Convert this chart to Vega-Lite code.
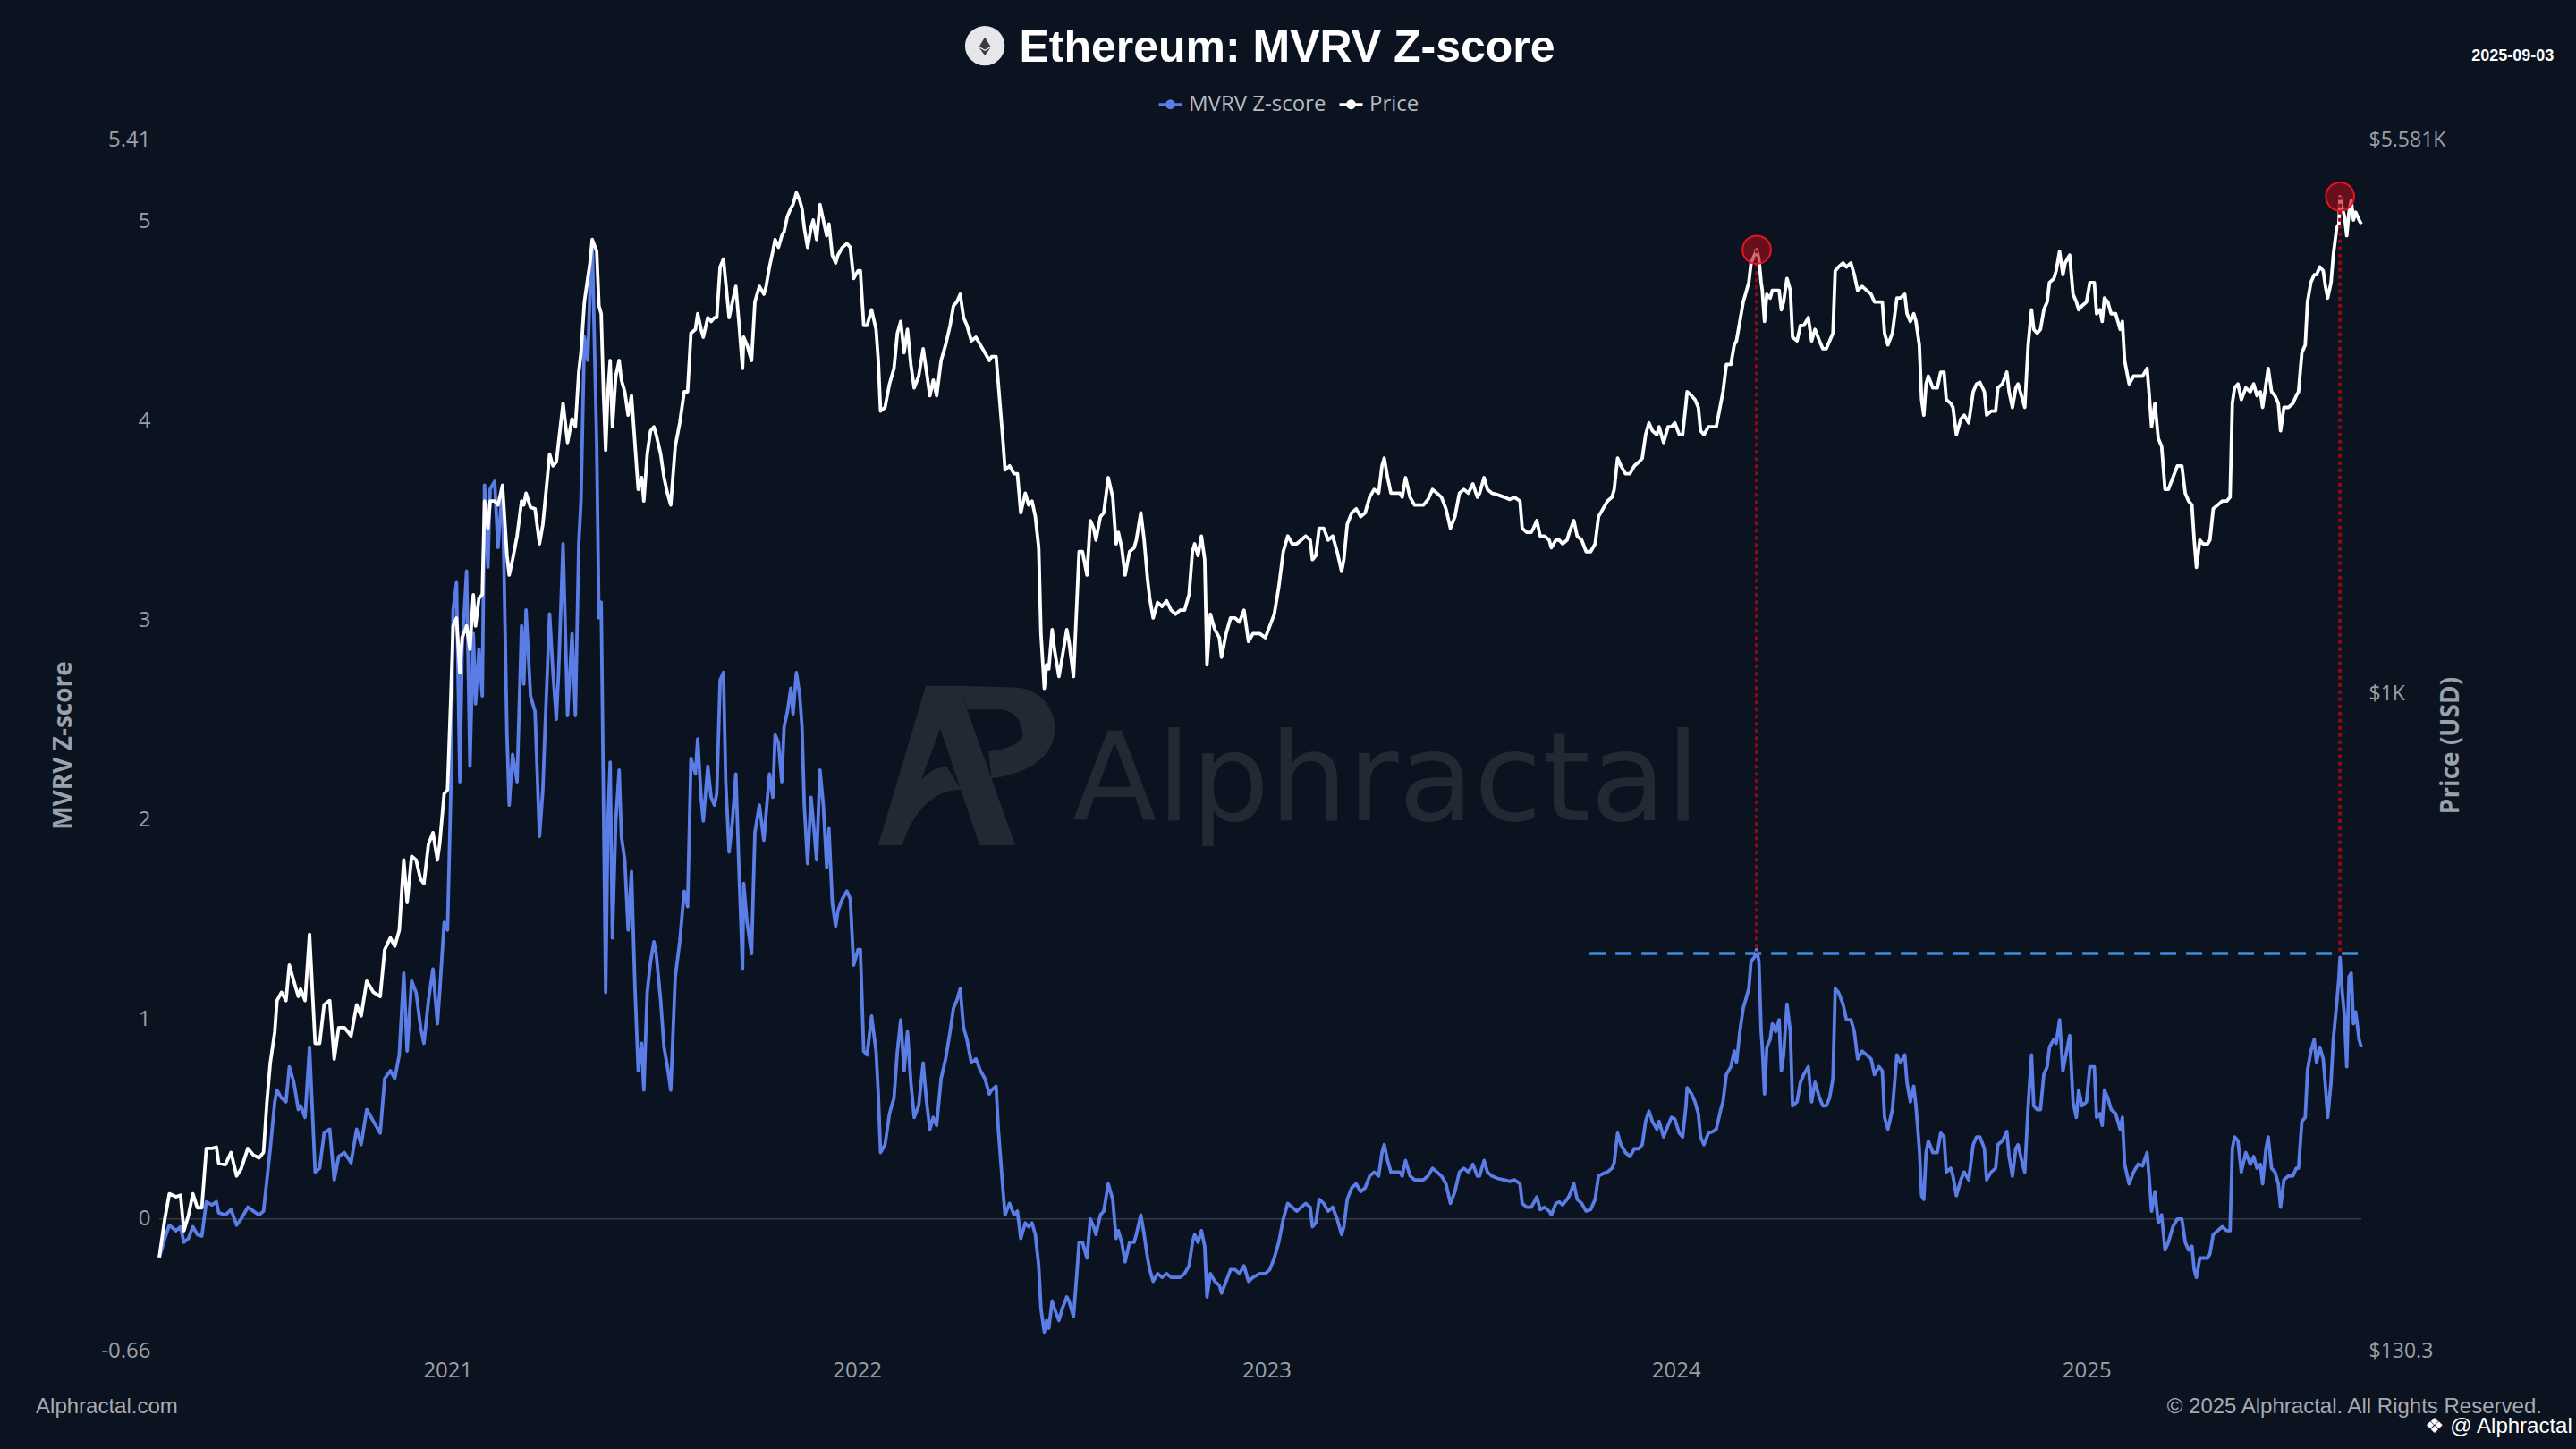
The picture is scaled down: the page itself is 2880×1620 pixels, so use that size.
{
  "$schema": "https://vega.github.io/schema/vega-lite/v6.json",
  "width": 2462,
  "height": 1354,
  "autosize": {"type": "none"},
  "padding": {"left": 178, "top": 156, "right": 240, "bottom": 110},
  "background": "#0b1220",
  "title": {
    "text": "Ethereum: MVRV Z-score",
    "color": "#ffffff",
    "font": "Liberation Sans",
    "fontSize": 50,
    "fontWeight": "bold",
    "anchor": "middle",
    "frame": "group",
    "dx": 30,
    "offset": -50
  },
  "config": {
    "view": {"stroke": null},
    "axis": {
      "grid": false,
      "domain": false,
      "ticks": false,
      "labelColor": "#9ba0a8",
      "labelFont": "Open Sans",
      "labelFontSize": 24,
      "titleColor": "#9ba1aa",
      "titleFont": "Open Sans",
      "titleFontSize": 28,
      "titleFontWeight": "bold"
    }
  },
  "datasets": {
    "series": [
      {"d": "2020-04-19", "z": -0.196, "p": 174},
      {"d": "2020-04-24", "z": -0.098, "p": 196},
      {"d": "2020-04-28", "z": -0.031, "p": 212},
      {"d": "2020-05-04", "z": -0.059, "p": 210},
      {"d": "2020-05-08", "z": -0.039, "p": 211},
      {"d": "2020-05-11", "z": -0.117, "p": 189},
      {"d": "2020-05-15", "z": -0.098, "p": 198},
      {"d": "2020-05-19", "z": -0.039, "p": 212},
      {"d": "2020-05-23", "z": -0.078, "p": 203},
      {"d": "2020-05-27", "z": -0.086, "p": 203},
      {"d": "2020-05-31", "z": 0.086, "p": 244},
      {"d": "2020-06-05", "z": 0.070, "p": 244},
      {"d": "2020-06-09", "z": 0.086, "p": 245},
      {"d": "2020-06-11", "z": 0.031, "p": 233},
      {"d": "2020-06-17", "z": 0.020, "p": 232},
      {"d": "2020-06-22", "z": 0.047, "p": 241},
      {"d": "2020-06-27", "z": -0.031, "p": 224},
      {"d": "2020-07-01", "z": 0.000, "p": 229},
      {"d": "2020-07-07", "z": 0.059, "p": 244},
      {"d": "2020-07-12", "z": 0.039, "p": 239},
      {"d": "2020-07-17", "z": 0.020, "p": 237},
      {"d": "2020-07-21", "z": 0.039, "p": 241},
      {"d": "2020-07-24", "z": 0.196, "p": 282},
      {"d": "2020-07-27", "z": 0.352, "p": 318},
      {"d": "2020-07-31", "z": 0.587, "p": 350},
      {"d": "2020-08-02", "z": 0.646, "p": 386},
      {"d": "2020-08-06", "z": 0.606, "p": 396},
      {"d": "2020-08-10", "z": 0.587, "p": 386},
      {"d": "2020-08-13", "z": 0.763, "p": 431},
      {"d": "2020-08-17", "z": 0.685, "p": 410},
      {"d": "2020-08-21", "z": 0.548, "p": 391},
      {"d": "2020-08-23", "z": 0.567, "p": 400},
      {"d": "2020-08-27", "z": 0.509, "p": 386},
      {"d": "2020-08-31", "z": 0.861, "p": 474},
      {"d": "2020-09-05", "z": 0.235, "p": 338},
      {"d": "2020-09-09", "z": 0.254, "p": 338},
      {"d": "2020-09-13", "z": 0.430, "p": 381},
      {"d": "2020-09-18", "z": 0.450, "p": 386},
      {"d": "2020-09-22", "z": 0.196, "p": 322},
      {"d": "2020-09-26", "z": 0.313, "p": 355},
      {"d": "2020-10-01", "z": 0.333, "p": 355},
      {"d": "2020-10-07", "z": 0.282, "p": 346},
      {"d": "2020-10-12", "z": 0.450, "p": 381},
      {"d": "2020-10-16", "z": 0.372, "p": 368},
      {"d": "2020-10-21", "z": 0.548, "p": 410},
      {"d": "2020-10-27", "z": 0.489, "p": 396},
      {"d": "2020-11-02", "z": 0.430, "p": 391},
      {"d": "2020-11-06", "z": 0.704, "p": 452},
      {"d": "2020-11-11", "z": 0.743, "p": 469},
      {"d": "2020-11-15", "z": 0.704, "p": 457},
      {"d": "2020-11-19", "z": 0.822, "p": 480},
      {"d": "2020-11-23", "z": 1.232, "p": 597},
      {"d": "2020-11-26", "z": 0.841, "p": 523},
      {"d": "2020-11-30", "z": 1.193, "p": 604},
      {"d": "2020-12-04", "z": 1.135, "p": 597},
      {"d": "2020-12-08", "z": 0.959, "p": 562},
      {"d": "2020-12-11", "z": 0.880, "p": 555},
      {"d": "2020-12-15", "z": 1.095, "p": 627},
      {"d": "2020-12-19", "z": 1.252, "p": 650},
      {"d": "2020-12-23", "z": 0.978, "p": 597},
      {"d": "2020-12-25", "z": 1.135, "p": 627},
      {"d": "2020-12-29", "z": 1.487, "p": 733},
      {"d": "2021-01-01", "z": 1.448, "p": 742},
      {"d": "2021-01-04", "z": 2.152, "p": 993},
      {"d": "2021-01-06", "z": 3.052, "p": 1234},
      {"d": "2021-01-09", "z": 3.189, "p": 1265},
      {"d": "2021-01-12", "z": 2.191, "p": 1067},
      {"d": "2021-01-14", "z": 2.856, "p": 1190},
      {"d": "2021-01-18", "z": 3.247, "p": 1234},
      {"d": "2021-01-21", "z": 2.269, "p": 1148},
      {"d": "2021-01-24", "z": 2.934, "p": 1360},
      {"d": "2021-01-26", "z": 2.582, "p": 1234},
      {"d": "2021-01-29", "z": 2.856, "p": 1344},
      {"d": "2021-02-01", "z": 2.621, "p": 1360},
      {"d": "2021-02-03", "z": 3.678, "p": 1818},
      {"d": "2021-02-06", "z": 3.267, "p": 1671},
      {"d": "2021-02-08", "z": 3.658, "p": 1818},
      {"d": "2021-02-12", "z": 3.697, "p": 1818},
      {"d": "2021-02-15", "z": 3.365, "p": 1796},
      {"d": "2021-02-19", "z": 3.678, "p": 1909},
      {"d": "2021-02-23", "z": 2.426, "p": 1535},
      {"d": "2021-02-25", "z": 2.074, "p": 1445},
      {"d": "2021-02-28", "z": 2.328, "p": 1516},
      {"d": "2021-03-04", "z": 2.191, "p": 1631},
      {"d": "2021-03-08", "z": 2.973, "p": 1818},
      {"d": "2021-03-10", "z": 2.680, "p": 1796},
      {"d": "2021-03-12", "z": 3.052, "p": 1863},
      {"d": "2021-03-16", "z": 2.621, "p": 1783},
      {"d": "2021-03-20", "z": 2.543, "p": 1775},
      {"d": "2021-03-24", "z": 1.917, "p": 1592},
      {"d": "2021-03-27", "z": 2.152, "p": 1691},
      {"d": "2021-03-29", "z": 2.465, "p": 1818},
      {"d": "2021-04-02", "z": 3.032, "p": 2103},
      {"d": "2021-04-05", "z": 2.739, "p": 2028},
      {"d": "2021-04-08", "z": 2.504, "p": 2052},
      {"d": "2021-04-10", "z": 2.739, "p": 2180},
      {"d": "2021-04-14", "z": 3.384, "p": 2461},
      {"d": "2021-04-18", "z": 2.523, "p": 2180},
      {"d": "2021-04-22", "z": 2.934, "p": 2345},
      {"d": "2021-04-25", "z": 2.523, "p": 2289},
      {"d": "2021-04-28", "z": 3.384, "p": 2712},
      {"d": "2021-04-30", "z": 3.599, "p": 2881},
      {"d": "2021-05-03", "z": 4.421, "p": 3372},
      {"d": "2021-05-06", "z": 4.304, "p": 3627},
      {"d": "2021-05-08", "z": 4.656, "p": 3806},
      {"d": "2021-05-10", "z": 4.890, "p": 4093},
      {"d": "2021-05-14", "z": 3.873, "p": 3946},
      {"d": "2021-05-16", "z": 3.013, "p": 3331},
      {"d": "2021-05-18", "z": 3.091, "p": 3251},
      {"d": "2021-05-20", "z": 2.113, "p": 2552},
      {"d": "2021-05-22", "z": 1.135, "p": 2128},
      {"d": "2021-05-24", "z": 1.995, "p": 2552},
      {"d": "2021-05-26", "z": 2.289, "p": 2812},
      {"d": "2021-05-28", "z": 1.408, "p": 2289},
      {"d": "2021-05-31", "z": 1.995, "p": 2679},
      {"d": "2021-06-03", "z": 2.250, "p": 2812},
      {"d": "2021-06-05", "z": 1.917, "p": 2647},
      {"d": "2021-06-08", "z": 1.800, "p": 2552},
      {"d": "2021-06-11", "z": 1.448, "p": 2373},
      {"d": "2021-06-14", "z": 1.741, "p": 2521},
      {"d": "2021-06-17", "z": 1.174, "p": 2180},
      {"d": "2021-06-20", "z": 0.743, "p": 1885},
      {"d": "2021-06-23", "z": 0.880, "p": 1956},
      {"d": "2021-06-25", "z": 0.646, "p": 1818},
      {"d": "2021-06-28", "z": 1.135, "p": 2103},
      {"d": "2021-07-01", "z": 1.291, "p": 2261},
      {"d": "2021-07-04", "z": 1.389, "p": 2289},
      {"d": "2021-07-06", "z": 1.330, "p": 2234},
      {"d": "2021-07-10", "z": 1.095, "p": 2103},
      {"d": "2021-07-13", "z": 0.861, "p": 1956},
      {"d": "2021-07-16", "z": 0.763, "p": 1863},
      {"d": "2021-07-19", "z": 0.646, "p": 1796},
      {"d": "2021-07-23", "z": 1.213, "p": 2154},
      {"d": "2021-07-27", "z": 1.389, "p": 2317},
      {"d": "2021-07-31", "z": 1.643, "p": 2552},
      {"d": "2021-08-03", "z": 1.565, "p": 2552},
      {"d": "2021-08-06", "z": 2.308, "p": 3061},
      {"d": "2021-08-10", "z": 2.230, "p": 3097},
      {"d": "2021-08-12", "z": 2.406, "p": 3251},
      {"d": "2021-08-15", "z": 2.113, "p": 3097},
      {"d": "2021-08-17", "z": 1.995, "p": 3023},
      {"d": "2021-08-21", "z": 2.269, "p": 3212},
      {"d": "2021-08-24", "z": 2.113, "p": 3174},
      {"d": "2021-08-27", "z": 2.074, "p": 3212},
      {"d": "2021-08-29", "z": 2.132, "p": 3212},
      {"d": "2021-09-01", "z": 2.700, "p": 3759},
      {"d": "2021-09-04", "z": 2.739, "p": 3852},
      {"d": "2021-09-06", "z": 2.191, "p": 3582},
      {"d": "2021-09-09", "z": 1.839, "p": 3212},
      {"d": "2021-09-12", "z": 1.995, "p": 3372},
      {"d": "2021-09-15", "z": 2.230, "p": 3539},
      {"d": "2021-09-18", "z": 1.721, "p": 3135},
      {"d": "2021-09-21", "z": 1.252, "p": 2744},
      {"d": "2021-09-22", "z": 1.682, "p": 3023},
      {"d": "2021-09-25", "z": 1.487, "p": 2951},
      {"d": "2021-09-29", "z": 1.330, "p": 2812},
      {"d": "2021-10-02", "z": 1.937, "p": 3372},
      {"d": "2021-10-06", "z": 2.074, "p": 3539},
      {"d": "2021-10-10", "z": 1.898, "p": 3454},
      {"d": "2021-10-12", "z": 2.034, "p": 3539},
      {"d": "2021-10-15", "z": 2.230, "p": 3759},
      {"d": "2021-10-18", "z": 2.113, "p": 3946},
      {"d": "2021-10-20", "z": 2.426, "p": 4093},
      {"d": "2021-10-23", "z": 2.387, "p": 3994},
      {"d": "2021-10-26", "z": 2.191, "p": 4142},
      {"d": "2021-10-28", "z": 2.465, "p": 4193},
      {"d": "2021-10-31", "z": 2.543, "p": 4400},
      {"d": "2021-11-03", "z": 2.660, "p": 4508},
      {"d": "2021-11-05", "z": 2.531, "p": 4563},
      {"d": "2021-11-08", "z": 2.739, "p": 4732},
      {"d": "2021-11-11", "z": 2.621, "p": 4619},
      {"d": "2021-11-13", "z": 2.465, "p": 4508},
      {"d": "2021-11-15", "z": 2.074, "p": 4244},
      {"d": "2021-11-18", "z": 1.780, "p": 3994},
      {"d": "2021-11-21", "z": 2.113, "p": 4244},
      {"d": "2021-11-23", "z": 1.995, "p": 4348},
      {"d": "2021-11-26", "z": 1.800, "p": 4093},
      {"d": "2021-11-29", "z": 2.250, "p": 4563},
      {"d": "2021-12-02", "z": 2.074, "p": 4348},
      {"d": "2021-12-05", "z": 1.761, "p": 4142},
      {"d": "2021-12-07", "z": 1.956, "p": 4295},
      {"d": "2021-12-10", "z": 1.585, "p": 3899},
      {"d": "2021-12-13", "z": 1.467, "p": 3806},
      {"d": "2021-12-15", "z": 1.545, "p": 3899},
      {"d": "2021-12-19", "z": 1.604, "p": 3994},
      {"d": "2021-12-23", "z": 1.643, "p": 4043},
      {"d": "2021-12-26", "z": 1.604, "p": 3994},
      {"d": "2021-12-29", "z": 1.272, "p": 3627},
      {"d": "2022-01-02", "z": 1.350, "p": 3715},
      {"d": "2022-01-04", "z": 1.350, "p": 3715},
      {"d": "2022-01-07", "z": 0.841, "p": 3135},
      {"d": "2022-01-10", "z": 0.822, "p": 3135},
      {"d": "2022-01-14", "z": 1.017, "p": 3291},
      {"d": "2022-01-18", "z": 0.841, "p": 3097},
      {"d": "2022-01-20", "z": 0.626, "p": 2812},
      {"d": "2022-01-22", "z": 0.333, "p": 2403},
      {"d": "2022-01-26", "z": 0.372, "p": 2431},
      {"d": "2022-01-30", "z": 0.528, "p": 2615},
      {"d": "2022-02-03", "z": 0.606, "p": 2744},
      {"d": "2022-02-06", "z": 0.841, "p": 3061},
      {"d": "2022-02-09", "z": 0.998, "p": 3174},
      {"d": "2022-02-12", "z": 0.743, "p": 2881},
      {"d": "2022-02-15", "z": 0.939, "p": 3097},
      {"d": "2022-02-18", "z": 0.685, "p": 2778},
      {"d": "2022-02-21", "z": 0.509, "p": 2583},
      {"d": "2022-02-25", "z": 0.567, "p": 2679},
      {"d": "2022-03-01", "z": 0.782, "p": 2916},
      {"d": "2022-03-04", "z": 0.587, "p": 2712},
      {"d": "2022-03-07", "z": 0.450, "p": 2521},
      {"d": "2022-03-10", "z": 0.509, "p": 2647},
      {"d": "2022-03-13", "z": 0.469, "p": 2521},
      {"d": "2022-03-17", "z": 0.704, "p": 2812},
      {"d": "2022-03-21", "z": 0.802, "p": 2951},
      {"d": "2022-03-25", "z": 0.939, "p": 3135},
      {"d": "2022-03-28", "z": 1.056, "p": 3331},
      {"d": "2022-03-31", "z": 1.095, "p": 3372},
      {"d": "2022-04-03", "z": 1.154, "p": 3454},
      {"d": "2022-04-06", "z": 0.959, "p": 3212},
      {"d": "2022-04-09", "z": 0.900, "p": 3135},
      {"d": "2022-04-13", "z": 0.782, "p": 2988},
      {"d": "2022-04-17", "z": 0.802, "p": 3023},
      {"d": "2022-04-21", "z": 0.743, "p": 2951},
      {"d": "2022-04-25", "z": 0.704, "p": 2881},
      {"d": "2022-04-29", "z": 0.626, "p": 2812},
      {"d": "2022-05-01", "z": 0.646, "p": 2846},
      {"d": "2022-05-05", "z": 0.665, "p": 2846},
      {"d": "2022-05-07", "z": 0.450, "p": 2615},
      {"d": "2022-05-11", "z": 0.156, "p": 2207},
      {"d": "2022-05-13", "z": 0.020, "p": 2003},
      {"d": "2022-05-17", "z": 0.078, "p": 2028},
      {"d": "2022-05-21", "z": 0.020, "p": 1979},
      {"d": "2022-05-24", "z": 0.039, "p": 1979},
      {"d": "2022-05-27", "z": -0.098, "p": 1753},
      {"d": "2022-05-31", "z": -0.020, "p": 1863},
      {"d": "2022-06-03", "z": -0.039, "p": 1796},
      {"d": "2022-06-06", "z": -0.020, "p": 1818},
      {"d": "2022-06-09", "z": -0.078, "p": 1733},
      {"d": "2022-06-12", "z": -0.235, "p": 1573},
      {"d": "2022-06-14", "z": -0.450, "p": 1205},
      {"d": "2022-06-17", "z": -0.567, "p": 1017},
      {"d": "2022-06-19", "z": -0.509, "p": 1094},
      {"d": "2022-06-21", "z": -0.548, "p": 1080},
      {"d": "2022-06-24", "z": -0.411, "p": 1220},
      {"d": "2022-06-26", "z": -0.450, "p": 1148},
      {"d": "2022-06-30", "z": -0.509, "p": 1055},
      {"d": "2022-07-03", "z": -0.450, "p": 1120},
      {"d": "2022-07-07", "z": -0.391, "p": 1220},
      {"d": "2022-07-09", "z": -0.411, "p": 1176},
      {"d": "2022-07-13", "z": -0.489, "p": 1055},
      {"d": "2022-07-16", "z": -0.274, "p": 1327},
      {"d": "2022-07-18", "z": -0.117, "p": 1554},
      {"d": "2022-07-21", "z": -0.117, "p": 1554},
      {"d": "2022-07-25", "z": -0.196, "p": 1445},
      {"d": "2022-07-28", "z": 0.000, "p": 1711},
      {"d": "2022-07-31", "z": -0.039, "p": 1671},
      {"d": "2022-08-02", "z": -0.078, "p": 1611},
      {"d": "2022-08-06", "z": 0.020, "p": 1732},
      {"d": "2022-08-09", "z": 0.039, "p": 1753},
      {"d": "2022-08-13", "z": 0.176, "p": 1955},
      {"d": "2022-08-17", "z": 0.098, "p": 1840},
      {"d": "2022-08-20", "z": -0.098, "p": 1592},
      {"d": "2022-08-22", "z": -0.059, "p": 1650},
      {"d": "2022-08-25", "z": -0.117, "p": 1573},
      {"d": "2022-08-28", "z": -0.215, "p": 1445},
      {"d": "2022-09-01", "z": -0.117, "p": 1554},
      {"d": "2022-09-05", "z": -0.117, "p": 1573},
      {"d": "2022-09-07", "z": -0.078, "p": 1611},
      {"d": "2022-09-11", "z": 0.020, "p": 1753},
      {"d": "2022-09-14", "z": -0.078, "p": 1611},
      {"d": "2022-09-17", "z": -0.196, "p": 1427},
      {"d": "2022-09-19", "z": -0.254, "p": 1344},
      {"d": "2022-09-22", "z": -0.313, "p": 1265},
      {"d": "2022-09-26", "z": -0.274, "p": 1327},
      {"d": "2022-09-30", "z": -0.293, "p": 1311},
      {"d": "2022-10-04", "z": -0.274, "p": 1334},
      {"d": "2022-10-08", "z": -0.293, "p": 1296},
      {"d": "2022-10-12", "z": -0.293, "p": 1280},
      {"d": "2022-10-16", "z": -0.293, "p": 1296},
      {"d": "2022-10-20", "z": -0.274, "p": 1296},
      {"d": "2022-10-24", "z": -0.235, "p": 1360},
      {"d": "2022-10-27", "z": -0.117, "p": 1554},
      {"d": "2022-10-29", "z": -0.078, "p": 1592},
      {"d": "2022-11-01", "z": -0.117, "p": 1535},
      {"d": "2022-11-04", "z": -0.059, "p": 1631},
      {"d": "2022-11-07", "z": -0.137, "p": 1516},
      {"d": "2022-11-09", "z": -0.391, "p": 1094},
      {"d": "2022-11-12", "z": -0.274, "p": 1280},
      {"d": "2022-11-16", "z": -0.313, "p": 1220},
      {"d": "2022-11-20", "z": -0.333, "p": 1190},
      {"d": "2022-11-22", "z": -0.372, "p": 1120},
      {"d": "2022-11-26", "z": -0.313, "p": 1205},
      {"d": "2022-11-30", "z": -0.254, "p": 1265},
      {"d": "2022-12-04", "z": -0.254, "p": 1265},
      {"d": "2022-12-08", "z": -0.274, "p": 1249},
      {"d": "2022-12-12", "z": -0.235, "p": 1296},
      {"d": "2022-12-16", "z": -0.313, "p": 1176},
      {"d": "2022-12-20", "z": -0.293, "p": 1205},
      {"d": "2022-12-26", "z": -0.274, "p": 1205},
      {"d": "2022-12-31", "z": -0.274, "p": 1190},
      {"d": "2023-01-04", "z": -0.254, "p": 1234},
      {"d": "2023-01-08", "z": -0.196, "p": 1280},
      {"d": "2023-01-12", "z": -0.117, "p": 1393},
      {"d": "2023-01-16", "z": 0.000, "p": 1554},
      {"d": "2023-01-20", "z": 0.078, "p": 1631},
      {"d": "2023-01-24", "z": 0.059, "p": 1592},
      {"d": "2023-01-28", "z": 0.039, "p": 1592},
      {"d": "2023-02-01", "z": 0.059, "p": 1611},
      {"d": "2023-02-05", "z": 0.078, "p": 1631},
      {"d": "2023-02-09", "z": 0.059, "p": 1611},
      {"d": "2023-02-11", "z": -0.039, "p": 1516},
      {"d": "2023-02-14", "z": -0.020, "p": 1535},
      {"d": "2023-02-17", "z": 0.098, "p": 1671},
      {"d": "2023-02-21", "z": 0.078, "p": 1671},
      {"d": "2023-02-25", "z": 0.039, "p": 1611},
      {"d": "2023-03-01", "z": 0.059, "p": 1631},
      {"d": "2023-03-05", "z": 0.000, "p": 1554},
      {"d": "2023-03-09", "z": -0.078, "p": 1462},
      {"d": "2023-03-11", "z": -0.039, "p": 1516},
      {"d": "2023-03-14", "z": 0.098, "p": 1691},
      {"d": "2023-03-18", "z": 0.156, "p": 1753},
      {"d": "2023-03-22", "z": 0.176, "p": 1775},
      {"d": "2023-03-26", "z": 0.137, "p": 1732},
      {"d": "2023-03-30", "z": 0.156, "p": 1753},
      {"d": "2023-04-03", "z": 0.215, "p": 1840},
      {"d": "2023-04-07", "z": 0.235, "p": 1885},
      {"d": "2023-04-11", "z": 0.215, "p": 1863},
      {"d": "2023-04-14", "z": 0.333, "p": 2028},
      {"d": "2023-04-16", "z": 0.372, "p": 2077},
      {"d": "2023-04-19", "z": 0.293, "p": 1955},
      {"d": "2023-04-22", "z": 0.235, "p": 1863},
      {"d": "2023-04-26", "z": 0.235, "p": 1863},
      {"d": "2023-04-30", "z": 0.235, "p": 1863},
      {"d": "2023-05-02", "z": 0.215, "p": 1840},
      {"d": "2023-05-05", "z": 0.293, "p": 1955},
      {"d": "2023-05-09", "z": 0.215, "p": 1840},
      {"d": "2023-05-13", "z": 0.196, "p": 1796},
      {"d": "2023-05-17", "z": 0.196, "p": 1796},
      {"d": "2023-05-21", "z": 0.196, "p": 1796},
      {"d": "2023-05-25", "z": 0.215, "p": 1827},
      {"d": "2023-05-29", "z": 0.254, "p": 1885},
      {"d": "2023-06-02", "z": 0.235, "p": 1863},
      {"d": "2023-06-06", "z": 0.215, "p": 1840},
      {"d": "2023-06-10", "z": 0.176, "p": 1775},
      {"d": "2023-06-14", "z": 0.078, "p": 1671},
      {"d": "2023-06-18", "z": 0.137, "p": 1732},
      {"d": "2023-06-22", "z": 0.235, "p": 1863},
      {"d": "2023-06-26", "z": 0.254, "p": 1885},
      {"d": "2023-06-30", "z": 0.235, "p": 1863},
      {"d": "2023-07-04", "z": 0.274, "p": 1918},
      {"d": "2023-07-08", "z": 0.215, "p": 1840},
      {"d": "2023-07-10", "z": 0.215, "p": 1863},
      {"d": "2023-07-14", "z": 0.293, "p": 1955},
      {"d": "2023-07-17", "z": 0.235, "p": 1885},
      {"d": "2023-07-21", "z": 0.215, "p": 1863},
      {"d": "2023-07-26", "z": 0.203, "p": 1854},
      {"d": "2023-08-01", "z": 0.196, "p": 1840},
      {"d": "2023-08-06", "z": 0.188, "p": 1827},
      {"d": "2023-08-10", "z": 0.196, "p": 1840},
      {"d": "2023-08-15", "z": 0.176, "p": 1818},
      {"d": "2023-08-17", "z": 0.078, "p": 1671},
      {"d": "2023-08-21", "z": 0.059, "p": 1650},
      {"d": "2023-08-25", "z": 0.059, "p": 1650},
      {"d": "2023-08-27", "z": 0.078, "p": 1671},
      {"d": "2023-08-30", "z": 0.110, "p": 1711},
      {"d": "2023-09-02", "z": 0.047, "p": 1631},
      {"d": "2023-09-06", "z": 0.059, "p": 1631},
      {"d": "2023-09-10", "z": 0.039, "p": 1611},
      {"d": "2023-09-12", "z": 0.020, "p": 1573},
      {"d": "2023-09-16", "z": 0.078, "p": 1611},
      {"d": "2023-09-19", "z": 0.086, "p": 1611},
      {"d": "2023-09-22", "z": 0.070, "p": 1592},
      {"d": "2023-09-26", "z": 0.098, "p": 1611},
      {"d": "2023-09-28", "z": 0.117, "p": 1650},
      {"d": "2023-10-02", "z": 0.176, "p": 1711},
      {"d": "2023-10-05", "z": 0.098, "p": 1631},
      {"d": "2023-10-09", "z": 0.078, "p": 1611},
      {"d": "2023-10-13", "z": 0.039, "p": 1554},
      {"d": "2023-10-17", "z": 0.047, "p": 1554},
      {"d": "2023-10-21", "z": 0.098, "p": 1592},
      {"d": "2023-10-24", "z": 0.215, "p": 1732},
      {"d": "2023-10-28", "z": 0.227, "p": 1775},
      {"d": "2023-11-01", "z": 0.235, "p": 1818},
      {"d": "2023-11-05", "z": 0.254, "p": 1840},
      {"d": "2023-11-07", "z": 0.282, "p": 1885},
      {"d": "2023-11-10", "z": 0.430, "p": 2077},
      {"d": "2023-11-13", "z": 0.372, "p": 2028},
      {"d": "2023-11-17", "z": 0.333, "p": 1979},
      {"d": "2023-11-21", "z": 0.313, "p": 1979},
      {"d": "2023-11-25", "z": 0.352, "p": 2028},
      {"d": "2023-11-29", "z": 0.352, "p": 2052},
      {"d": "2023-12-02", "z": 0.372, "p": 2077},
      {"d": "2023-12-05", "z": 0.489, "p": 2234},
      {"d": "2023-12-08", "z": 0.540, "p": 2317},
      {"d": "2023-12-11", "z": 0.489, "p": 2261},
      {"d": "2023-12-15", "z": 0.450, "p": 2234},
      {"d": "2023-12-17", "z": 0.489, "p": 2289},
      {"d": "2023-12-21", "z": 0.411, "p": 2180},
      {"d": "2023-12-25", "z": 0.469, "p": 2289},
      {"d": "2023-12-28", "z": 0.509, "p": 2289},
      {"d": "2023-12-31", "z": 0.501, "p": 2317},
      {"d": "2024-01-04", "z": 0.430, "p": 2234},
      {"d": "2024-01-07", "z": 0.411, "p": 2234},
      {"d": "2024-01-10", "z": 0.567, "p": 2461},
      {"d": "2024-01-11", "z": 0.657, "p": 2552},
      {"d": "2024-01-15", "z": 0.626, "p": 2521},
      {"d": "2024-01-18", "z": 0.587, "p": 2491},
      {"d": "2024-01-21", "z": 0.528, "p": 2431},
      {"d": "2024-01-23", "z": 0.411, "p": 2261},
      {"d": "2024-01-26", "z": 0.372, "p": 2234},
      {"d": "2024-01-30", "z": 0.430, "p": 2289},
      {"d": "2024-02-03", "z": 0.438, "p": 2289},
      {"d": "2024-02-06", "z": 0.450, "p": 2289},
      {"d": "2024-02-10", "z": 0.548, "p": 2461},
      {"d": "2024-02-12", "z": 0.587, "p": 2552},
      {"d": "2024-02-15", "z": 0.724, "p": 2778},
      {"d": "2024-02-19", "z": 0.763, "p": 2778},
      {"d": "2024-02-22", "z": 0.841, "p": 2951},
      {"d": "2024-02-24", "z": 0.782, "p": 2988},
      {"d": "2024-02-27", "z": 0.939, "p": 3174},
      {"d": "2024-03-01", "z": 1.056, "p": 3372},
      {"d": "2024-03-03", "z": 1.095, "p": 3454},
      {"d": "2024-03-06", "z": 1.154, "p": 3582},
      {"d": "2024-03-08", "z": 1.291, "p": 3806},
      {"d": "2024-03-11", "z": 1.311, "p": 3899},
      {"d": "2024-03-13", "z": 1.350, "p": 3965},
      {"d": "2024-03-15", "z": 1.291, "p": 3852},
      {"d": "2024-03-17", "z": 0.939, "p": 3582},
      {"d": "2024-03-18", "z": 0.861, "p": 3496},
      {"d": "2024-03-20", "z": 0.626, "p": 3174},
      {"d": "2024-03-22", "z": 0.861, "p": 3454},
      {"d": "2024-03-25", "z": 0.900, "p": 3413},
      {"d": "2024-03-27", "z": 0.978, "p": 3496},
      {"d": "2024-03-30", "z": 0.939, "p": 3496},
      {"d": "2024-04-02", "z": 0.998, "p": 3496},
      {"d": "2024-04-04", "z": 0.743, "p": 3291},
      {"d": "2024-04-06", "z": 0.822, "p": 3372},
      {"d": "2024-04-09", "z": 1.076, "p": 3627},
      {"d": "2024-04-12", "z": 0.939, "p": 3496},
      {"d": "2024-04-14", "z": 0.567, "p": 3023},
      {"d": "2024-04-18", "z": 0.587, "p": 2988},
      {"d": "2024-04-21", "z": 0.685, "p": 3135},
      {"d": "2024-04-24", "z": 0.724, "p": 3135},
      {"d": "2024-04-28", "z": 0.763, "p": 3212},
      {"d": "2024-05-01", "z": 0.587, "p": 2988},
      {"d": "2024-05-04", "z": 0.685, "p": 3097},
      {"d": "2024-05-08", "z": 0.606, "p": 2988},
      {"d": "2024-05-11", "z": 0.567, "p": 2916},
      {"d": "2024-05-14", "z": 0.567, "p": 2916},
      {"d": "2024-05-17", "z": 0.606, "p": 2988},
      {"d": "2024-05-20", "z": 0.704, "p": 3061},
      {"d": "2024-05-22", "z": 1.154, "p": 3715},
      {"d": "2024-05-25", "z": 1.135, "p": 3759},
      {"d": "2024-05-29", "z": 1.076, "p": 3806},
      {"d": "2024-06-01", "z": 0.998, "p": 3759},
      {"d": "2024-06-05", "z": 0.998, "p": 3806},
      {"d": "2024-06-08", "z": 0.939, "p": 3669},
      {"d": "2024-06-11", "z": 0.802, "p": 3496},
      {"d": "2024-06-15", "z": 0.841, "p": 3539},
      {"d": "2024-06-19", "z": 0.822, "p": 3496},
      {"d": "2024-06-23", "z": 0.802, "p": 3454},
      {"d": "2024-06-26", "z": 0.724, "p": 3372},
      {"d": "2024-06-30", "z": 0.763, "p": 3372},
      {"d": "2024-07-03", "z": 0.743, "p": 3372},
      {"d": "2024-07-05", "z": 0.509, "p": 3061},
      {"d": "2024-07-08", "z": 0.450, "p": 2951},
      {"d": "2024-07-12", "z": 0.548, "p": 3061},
      {"d": "2024-07-16", "z": 0.822, "p": 3413},
      {"d": "2024-07-19", "z": 0.782, "p": 3413},
      {"d": "2024-07-23", "z": 0.822, "p": 3454},
      {"d": "2024-07-25", "z": 0.685, "p": 3251},
      {"d": "2024-07-28", "z": 0.587, "p": 3174},
      {"d": "2024-07-31", "z": 0.665, "p": 3251},
      {"d": "2024-08-02", "z": 0.567, "p": 3174},
      {"d": "2024-08-05", "z": 0.352, "p": 2951},
      {"d": "2024-08-07", "z": 0.117, "p": 2491},
      {"d": "2024-08-09", "z": 0.098, "p": 2373},
      {"d": "2024-08-11", "z": 0.333, "p": 2615},
      {"d": "2024-08-13", "z": 0.391, "p": 2679},
      {"d": "2024-08-17", "z": 0.333, "p": 2583},
      {"d": "2024-08-21", "z": 0.333, "p": 2583},
      {"d": "2024-08-24", "z": 0.430, "p": 2712},
      {"d": "2024-08-27", "z": 0.411, "p": 2712},
      {"d": "2024-08-29", "z": 0.235, "p": 2491},
      {"d": "2024-09-02", "z": 0.254, "p": 2461},
      {"d": "2024-09-04", "z": 0.215, "p": 2431},
      {"d": "2024-09-07", "z": 0.117, "p": 2234},
      {"d": "2024-09-11", "z": 0.196, "p": 2345},
      {"d": "2024-09-14", "z": 0.235, "p": 2373},
      {"d": "2024-09-18", "z": 0.196, "p": 2317},
      {"d": "2024-09-22", "z": 0.372, "p": 2552},
      {"d": "2024-09-25", "z": 0.411, "p": 2615},
      {"d": "2024-09-28", "z": 0.411, "p": 2627},
      {"d": "2024-10-02", "z": 0.352, "p": 2552},
      {"d": "2024-10-04", "z": 0.196, "p": 2373},
      {"d": "2024-10-08", "z": 0.235, "p": 2403},
      {"d": "2024-10-12", "z": 0.254, "p": 2403},
      {"d": "2024-10-14", "z": 0.372, "p": 2583},
      {"d": "2024-10-18", "z": 0.391, "p": 2615},
      {"d": "2024-10-22", "z": 0.438, "p": 2712},
      {"d": "2024-10-24", "z": 0.313, "p": 2552},
      {"d": "2024-10-27", "z": 0.215, "p": 2431},
      {"d": "2024-10-30", "z": 0.352, "p": 2583},
      {"d": "2024-11-01", "z": 0.372, "p": 2615},
      {"d": "2024-11-05", "z": 0.274, "p": 2491},
      {"d": "2024-11-07", "z": 0.235, "p": 2431},
      {"d": "2024-11-10", "z": 0.567, "p": 2951},
      {"d": "2024-11-13", "z": 0.822, "p": 3291},
      {"d": "2024-11-15", "z": 0.567, "p": 3097},
      {"d": "2024-11-18", "z": 0.548, "p": 3061},
      {"d": "2024-11-21", "z": 0.548, "p": 3097},
      {"d": "2024-11-24", "z": 0.724, "p": 3291},
      {"d": "2024-11-27", "z": 0.763, "p": 3372},
      {"d": "2024-11-29", "z": 0.861, "p": 3582},
      {"d": "2024-12-03", "z": 0.900, "p": 3627},
      {"d": "2024-12-05", "z": 0.880, "p": 3715},
      {"d": "2024-12-08", "z": 0.998, "p": 3946},
      {"d": "2024-12-11", "z": 0.743, "p": 3669},
      {"d": "2024-12-13", "z": 0.802, "p": 3806},
      {"d": "2024-12-17", "z": 0.919, "p": 3899},
      {"d": "2024-12-20", "z": 0.587, "p": 3454},
      {"d": "2024-12-23", "z": 0.509, "p": 3372},
      {"d": "2024-12-25", "z": 0.646, "p": 3291},
      {"d": "2024-12-28", "z": 0.567, "p": 3331},
      {"d": "2025-01-01", "z": 0.587, "p": 3372},
      {"d": "2025-01-04", "z": 0.763, "p": 3582},
      {"d": "2025-01-08", "z": 0.763, "p": 3582},
      {"d": "2025-01-10", "z": 0.509, "p": 3251},
      {"d": "2025-01-13", "z": 0.528, "p": 3291},
      {"d": "2025-01-15", "z": 0.469, "p": 3174},
      {"d": "2025-01-17", "z": 0.646, "p": 3413},
      {"d": "2025-01-20", "z": 0.606, "p": 3372},
      {"d": "2025-01-23", "z": 0.548, "p": 3251},
      {"d": "2025-01-27", "z": 0.528, "p": 3251},
      {"d": "2025-01-31", "z": 0.450, "p": 3097},
      {"d": "2025-02-02", "z": 0.509, "p": 3174},
      {"d": "2025-02-04", "z": 0.274, "p": 2812},
      {"d": "2025-02-08", "z": 0.176, "p": 2615},
      {"d": "2025-02-12", "z": 0.235, "p": 2679},
      {"d": "2025-02-16", "z": 0.274, "p": 2679},
      {"d": "2025-02-20", "z": 0.266, "p": 2679},
      {"d": "2025-02-24", "z": 0.333, "p": 2744},
      {"d": "2025-02-26", "z": 0.196, "p": 2521},
      {"d": "2025-02-28", "z": 0.039, "p": 2289},
      {"d": "2025-03-03", "z": 0.137, "p": 2461},
      {"d": "2025-03-06", "z": -0.020, "p": 2207},
      {"d": "2025-03-09", "z": 0.020, "p": 2154},
      {"d": "2025-03-12", "z": -0.156, "p": 1885},
      {"d": "2025-03-15", "z": -0.117, "p": 1885},
      {"d": "2025-03-19", "z": -0.039, "p": 1955},
      {"d": "2025-03-23", "z": 0.000, "p": 2028},
      {"d": "2025-03-27", "z": 0.000, "p": 2028},
      {"d": "2025-03-30", "z": -0.117, "p": 1863},
      {"d": "2025-04-02", "z": -0.156, "p": 1818},
      {"d": "2025-04-05", "z": -0.137, "p": 1796},
      {"d": "2025-04-07", "z": -0.254, "p": 1611},
      {"d": "2025-04-09", "z": -0.293, "p": 1480},
      {"d": "2025-04-12", "z": -0.196, "p": 1611},
      {"d": "2025-04-15", "z": -0.196, "p": 1592},
      {"d": "2025-04-19", "z": -0.196, "p": 1592},
      {"d": "2025-04-21", "z": -0.176, "p": 1611},
      {"d": "2025-04-24", "z": -0.078, "p": 1775},
      {"d": "2025-04-28", "z": -0.059, "p": 1796},
      {"d": "2025-05-02", "z": -0.039, "p": 1818},
      {"d": "2025-05-06", "z": -0.059, "p": 1818},
      {"d": "2025-05-09", "z": -0.059, "p": 1840},
      {"d": "2025-05-11", "z": 0.352, "p": 2461},
      {"d": "2025-05-13", "z": 0.411, "p": 2583},
      {"d": "2025-05-16", "z": 0.391, "p": 2615},
      {"d": "2025-05-19", "z": 0.235, "p": 2491},
      {"d": "2025-05-23", "z": 0.333, "p": 2583},
      {"d": "2025-05-27", "z": 0.274, "p": 2552},
      {"d": "2025-05-30", "z": 0.313, "p": 2615},
      {"d": "2025-06-02", "z": 0.254, "p": 2521},
      {"d": "2025-06-05", "z": 0.274, "p": 2552},
      {"d": "2025-06-07", "z": 0.176, "p": 2431},
      {"d": "2025-06-10", "z": 0.352, "p": 2615},
      {"d": "2025-06-12", "z": 0.411, "p": 2744},
      {"d": "2025-06-15", "z": 0.254, "p": 2552},
      {"d": "2025-06-18", "z": 0.235, "p": 2521},
      {"d": "2025-06-21", "z": 0.176, "p": 2461},
      {"d": "2025-06-23", "z": 0.059, "p": 2261},
      {"d": "2025-06-26", "z": 0.196, "p": 2431},
      {"d": "2025-06-30", "z": 0.215, "p": 2431},
      {"d": "2025-07-04", "z": 0.215, "p": 2461},
      {"d": "2025-07-07", "z": 0.254, "p": 2521},
      {"d": "2025-07-09", "z": 0.254, "p": 2552},
      {"d": "2025-07-12", "z": 0.489, "p": 2881},
      {"d": "2025-07-15", "z": 0.509, "p": 2951},
      {"d": "2025-07-17", "z": 0.743, "p": 3372},
      {"d": "2025-07-20", "z": 0.841, "p": 3582},
      {"d": "2025-07-23", "z": 0.900, "p": 3669},
      {"d": "2025-07-25", "z": 0.782, "p": 3669},
      {"d": "2025-07-28", "z": 0.861, "p": 3759},
      {"d": "2025-07-31", "z": 0.802, "p": 3715},
      {"d": "2025-08-02", "z": 0.665, "p": 3539},
      {"d": "2025-08-04", "z": 0.509, "p": 3413},
      {"d": "2025-08-07", "z": 0.685, "p": 3582},
      {"d": "2025-08-09", "z": 0.900, "p": 3899},
      {"d": "2025-08-12", "z": 1.076, "p": 4244},
      {"d": "2025-08-14", "z": 1.213, "p": 4295},
      {"d": "2025-08-15", "z": 1.311, "p": 4675},
      {"d": "2025-08-17", "z": 1.135, "p": 4508},
      {"d": "2025-08-19", "z": 1.017, "p": 4400},
      {"d": "2025-08-21", "z": 0.763, "p": 4142},
      {"d": "2025-08-23", "z": 1.213, "p": 4455},
      {"d": "2025-08-25", "z": 1.232, "p": 4619},
      {"d": "2025-08-27", "z": 0.978, "p": 4348},
      {"d": "2025-08-29", "z": 1.037, "p": 4455},
      {"d": "2025-09-01", "z": 0.900, "p": 4348},
      {"d": "2025-09-03", "z": 0.861, "p": 4295}
    ],
    "peaks": [
      {"d": "2024-03-13", "p": 3965},
      {"d": "2025-08-15", "p": 4675}
    ],
    "threshold": [
      {"start": "2023-10-16", "end": "2025-09-03", "z": 1.33}
    ],
    "zero": [
      {"z": 0}
    ],
    "one": [
      {}
    ]
  },
  "layer": [
    {
      "layer": [
        {
          "data": {"name": "one"},
          "mark": {"type": "text", "font": "DejaVu Sans", "fontSize": 138, "align": "left", "baseline": "alphabetic", "color": "#212933"},
          "encoding": {
            "x": {"datum": {"year": 2022, "month": 7, "date": 12, "utc": true}, "type": "temporal", "scale": {"type": "utc", "nice": false, "domain": [{"year": 2020, "month": 4, "date": 19, "utc": true}, {"year": 2025, "month": 9, "date": 3, "utc": true}]}},
            "y": {"datum": 2.0, "type": "quantitative", "scale": {"domain": [-0.66, 5.41], "nice": false, "zero": false}},
            "text": {"value": "Alphractal"}
          }
        },
        {
          "data": {"name": "one"},
          "mark": {"type": "point", "filled": true, "opacity": 1, "color": "#212933", "size": 38809, "shape": "M-0.454,-0.917L-0.081,-0.917L0.561,0.893L0.156,0.893Z M-0.454,-0.917L-0.284,-0.444L-0.78,0.893L-0.995,0.893Z M-0.995,0.893C-0.75,0.35 -0.45,0 -0.216,0L-0.047,0.267C-0.35,0.25 -0.6,0.5 -0.72,0.893Z M-0.081,-0.917L0.561,-0.9C0.95,-0.88 1.05,-0.5 1,-0.342C0.95,-0.05 0.6,0.1 0.291,0.132L0.257,-0.173C0.5,-0.2 0.646,-0.28 0.646,-0.359C0.646,-0.55 0.5,-0.647 0.393,-0.647L0.02,-0.647Z"},
          "encoding": {
            "x": {"datum": {"year": 2022, "month": 4, "date": 8, "utc": true}, "type": "temporal", "scale": {"type": "utc", "nice": false, "domain": [{"year": 2020, "month": 4, "date": 19, "utc": true}, {"year": 2025, "month": 9, "date": 3, "utc": true}]}},
            "y": {"datum": 2.267, "type": "quantitative", "scale": {"domain": [-0.66, 5.41], "nice": false, "zero": false}}
          }
        },
        {
          "data": {"name": "zero"},
          "mark": {"type": "rule", "color": "#343b48", "strokeWidth": 1.5},
          "encoding": {
            "y": {"field": "z", "type": "quantitative", "scale": {"domain": [-0.66, 5.41], "nice": false, "zero": false}}
          }
        },
        {
          "data": {"name": "threshold"},
          "mark": {"type": "rule", "color": "#3a8ee0", "strokeWidth": 3.5, "strokeDash": [18, 11]},
          "encoding": {
            "x": {"field": "start", "type": "temporal", "scale": {"type": "utc", "nice": false, "domain": [{"year": 2020, "month": 4, "date": 19, "utc": true}, {"year": 2025, "month": 9, "date": 3, "utc": true}]}},
            "x2": {"field": "end"},
            "y": {"field": "z", "type": "quantitative", "scale": {"domain": [-0.66, 5.41], "nice": false, "zero": false}}
          }
        },
        {
          "data": {"name": "series"},
          "mark": {"type": "line", "strokeWidth": 3.8, "strokeJoin": "round"},
          "encoding": {
            "x": {
              "field": "d",
              "type": "temporal",
              "scale": {"type": "utc", "nice": false, "domain": [{"year": 2020, "month": 4, "date": 19, "utc": true}, {"year": 2025, "month": 9, "date": 3, "utc": true}]},
              "axis": {
                "title": null,
                "values": [
                  {"year": 2021, "month": 1, "date": 1, "utc": true},
                  {"year": 2022, "month": 1, "date": 1, "utc": true},
                  {"year": 2023, "month": 1, "date": 1, "utc": true},
                  {"year": 2024, "month": 1, "date": 1, "utc": true},
                  {"year": 2025, "month": 1, "date": 1, "utc": true}
                ],
                "format": "%Y",
                "labelPadding": 10
              }
            },
            "y": {
              "field": "z",
              "type": "quantitative",
              "scale": {"domain": [-0.66, 5.41], "nice": false, "zero": false},
              "axis": {
                "orient": "left",
                "title": "MVRV Z-score",
                "values": [-0.66, 0, 1, 2, 3, 4, 5, 5.41],
                "labelExpr": "'' + datum.value",
                "labelOverlap": false,
                "labelFlush": false,
                "labelPadding": 10,
                "titlePadding": 27
              }
            },
            "color": {
              "datum": "MVRV Z-score",
              "type": "nominal",
              "scale": {"domain": ["MVRV Z-score", "Price"], "range": ["#5b7de6", "#ffffff"]},
              "legend": {
                "title": null,
                "orient": "none",
                "legendX": 1116,
                "legendY": -54,
                "direction": "horizontal",
                "labelColor": "#b6bac1",
                "labelFont": "Open Sans",
                "labelFontSize": 24,
                "labelOffset": 6,
                "columnPadding": 8,
                "symbolType": "M-1,0L1,0M-0.3,0A0.3,0.3,0,1,0,0.3,0A0.3,0.3,0,1,0,-0.3,0Z",
                "symbolSize": 676,
                "symbolStrokeWidth": 3,
                "encode": {
                  "symbols": {
                    "update": {
                      "fill": {"scale": "color", "field": "value"},
                      "stroke": {"scale": "color", "field": "value"},
                      "opacity": {"value": 1}
                    }
                  }
                }
              }
            }
          }
        },
        {
          "data": {"name": "one"},
          "mark": {"type": "point", "filled": true, "opacity": 1, "color": "#e6e7e9", "shape": "circle", "size": 1963},
          "encoding": {
            "x": {"datum": {"year": 2022, "month": 4, "date": 25, "utc": true}, "type": "temporal", "scale": {"type": "utc", "nice": false, "domain": [{"year": 2020, "month": 4, "date": 19, "utc": true}, {"year": 2025, "month": 9, "date": 3, "utc": true}]}},
            "y": {"datum": 5.88, "type": "quantitative", "scale": {"domain": [-0.66, 5.41], "nice": false, "zero": false}}
          }
        },
        {
          "data": {"name": "one"},
          "mark": {"type": "point", "filled": true, "opacity": 1, "color": "#3b3c40", "size": 529, "shape": "M0,-0.85L0.55,0.08L0,0.38L-0.55,0.08Z M0,0.5L0.55,0.2L0,0.95L-0.55,0.2Z"},
          "encoding": {
            "x": {"datum": {"year": 2022, "month": 4, "date": 25, "utc": true}, "type": "temporal", "scale": {"type": "utc", "nice": false, "domain": [{"year": 2020, "month": 4, "date": 19, "utc": true}, {"year": 2025, "month": 9, "date": 3, "utc": true}]}},
            "y": {"datum": 5.88, "type": "quantitative", "scale": {"domain": [-0.66, 5.41], "nice": false, "zero": false}}
          }
        },
        {
          "data": {"name": "one"},
          "mark": {"type": "text", "font": "Liberation Sans", "fontSize": 18, "fontWeight": "bold", "color": "#ffffff", "align": "center", "baseline": "middle"},
          "encoding": {
            "x": {"datum": {"year": 2026, "month": 1, "date": 16, "utc": true}, "type": "temporal", "scale": {"type": "utc", "nice": false, "domain": [{"year": 2020, "month": 4, "date": 19, "utc": true}, {"year": 2025, "month": 9, "date": 3, "utc": true}]}},
            "y": {"datum": 5.827, "type": "quantitative", "scale": {"domain": [-0.66, 5.41], "nice": false, "zero": false}},
            "text": {"value": "2025-09-03"}
          }
        },
        {
          "data": {"name": "one"},
          "mark": {"type": "text", "font": "Liberation Sans", "fontSize": 24, "color": "#a6aab1", "align": "left", "baseline": "middle"},
          "encoding": {
            "x": {"datum": {"year": 2019, "month": 12, "date": 31, "utc": true}, "type": "temporal", "scale": {"type": "utc", "nice": false, "domain": [{"year": 2020, "month": 4, "date": 19, "utc": true}, {"year": 2025, "month": 9, "date": 3, "utc": true}]}},
            "y": {"datum": -0.942, "type": "quantitative", "scale": {"domain": [-0.66, 5.41], "nice": false, "zero": false}},
            "text": {"value": "Alphractal.com"}
          }
        },
        {
          "data": {"name": "one"},
          "mark": {"type": "text", "font": "Liberation Sans", "fontSize": 24, "color": "#a6aab1", "align": "right", "baseline": "middle"},
          "encoding": {
            "x": {"datum": {"year": 2026, "month": 2, "date": 11, "utc": true}, "type": "temporal", "scale": {"type": "utc", "nice": false, "domain": [{"year": 2020, "month": 4, "date": 19, "utc": true}, {"year": 2025, "month": 9, "date": 3, "utc": true}]}},
            "y": {"datum": -0.942, "type": "quantitative", "scale": {"domain": [-0.66, 5.41], "nice": false, "zero": false}},
            "text": {"value": "© 2025 Alphractal. All Rights Reserved."}
          }
        },
        {
          "data": {"name": "one"},
          "mark": {"type": "text", "font": "Liberation Sans", "fontSize": 24, "color": "#ffffff", "align": "right", "baseline": "middle"},
          "encoding": {
            "x": {"datum": {"year": 2026, "month": 3, "date": 10, "utc": true}, "type": "temporal", "scale": {"type": "utc", "nice": false, "domain": [{"year": 2020, "month": 4, "date": 19, "utc": true}, {"year": 2025, "month": 9, "date": 3, "utc": true}]}},
            "y": {"datum": -1.041, "type": "quantitative", "scale": {"domain": [-0.66, 5.41], "nice": false, "zero": false}},
            "text": {"value": "❖ @ Alphractal"}
          }
        }
      ]
    },
    {
      "layer": [
        {
          "data": {"name": "series"},
          "mark": {"type": "line", "strokeWidth": 3.8, "strokeJoin": "round"},
          "encoding": {
            "x": {"field": "d", "type": "temporal", "scale": {"type": "utc", "nice": false, "domain": [{"year": 2020, "month": 4, "date": 19, "utc": true}, {"year": 2025, "month": 9, "date": 3, "utc": true}]}},
            "y": {
              "field": "p",
              "type": "quantitative",
              "scale": {"type": "log", "domain": [130.3, 5581], "nice": false},
              "axis": {
                "orient": "right",
                "title": "Price (USD)",
                "values": [130.3, 1000, 5581],
                "labelExpr": "datum.value == 1000 ? '$1K' : datum.value > 5000 ? '$5.581K' : '$130.3'",
                "labelOverlap": false,
                "labelFlush": false,
                "labelFontSize": 23,
                "labelPadding": 8,
                "titleAngle": 270,
                "titleBaseline": "top",
                "titlePadding": -7
              }
            },
            "color": {
              "datum": "Price",
              "type": "nominal",
              "scale": {"domain": ["MVRV Z-score", "Price"], "range": ["#5b7de6", "#ffffff"]}
            }
          }
        },
        {
          "data": {"name": "peaks"},
          "mark": {"type": "rule", "color": "#8e0b12", "strokeWidth": 4, "strokeDash": [4, 4]},
          "encoding": {
            "x": {"field": "d", "type": "temporal", "scale": {"type": "utc", "nice": false, "domain": [{"year": 2020, "month": 4, "date": 19, "utc": true}, {"year": 2025, "month": 9, "date": 3, "utc": true}]}},
            "y": {"field": "p", "type": "quantitative", "scale": {"type": "log", "domain": [130.3, 5581], "nice": false}},
            "y2": {"datum": 447}
          }
        },
        {
          "data": {"name": "peaks"},
          "mark": {"type": "point", "shape": "circle", "filled": true, "fill": "#a50e18", "fillOpacity": 0.6, "stroke": "#e8141f", "strokeWidth": 2, "strokeOpacity": 1, "opacity": 1, "size": 1000},
          "encoding": {
            "x": {"field": "d", "type": "temporal", "scale": {"type": "utc", "nice": false, "domain": [{"year": 2020, "month": 4, "date": 19, "utc": true}, {"year": 2025, "month": 9, "date": 3, "utc": true}]}},
            "y": {"field": "p", "type": "quantitative", "scale": {"type": "log", "domain": [130.3, 5581], "nice": false}}
          }
        }
      ]
    }
  ],
  "resolve": {"scale": {"y": "independent"}}
}
